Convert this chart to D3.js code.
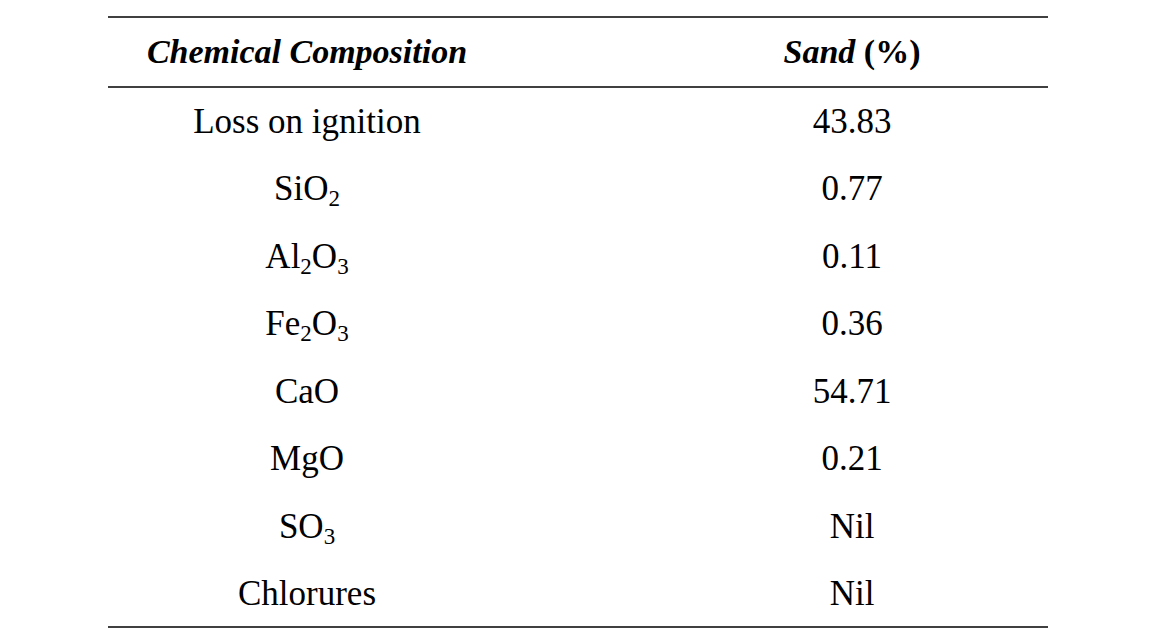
<!DOCTYPE html>
<html><head><meta charset="utf-8">
<script src="https://cdn.jsdelivr.net/npm/d3@7"></script>
<style>body{margin:0;background:#fff}</style></head>
<body><svg id="c" width="1151" height="639"></svg>
<script>
const headers = ["Chemical Composition", "Sand"];
// each category as parts: [text, isSubscript]
const categories = [
  [["Loss on ignition",0]],
  [["SiO",0],["2",1]],
  [["Al",0],["2",1],["O",0],["3",1]],
  [["Fe",0],["2",1],["O",0],["3",1]],
  [["CaO",0]],
  [["MgO",0]],
  [["SO",0],["3",1]],
  [["Chlorures",0]]
];
const values = ["43.83","0.77","0.11","0.36","54.71","0.21","Nil","Nil"];

const svg = d3.select("#c");
const font = "'Liberation Serif','Times New Roman',serif";
const x0 = 108, x1 = 1048;
const colX = [307, 852];
const y = d3.scalePoint().domain(d3.range(categories.length)).range([121, 593]);

[17, 87, 627].forEach(yy => svg.append("line").attr("x1", x0).attr("x2", x1)
  .attr("y1", yy).attr("y2", yy).attr("stroke", "#000").attr("stroke-width", 1.6));

svg.append("text").attr("x", colX[0]).attr("y", 63).attr("text-anchor", "middle")
  .attr("font-family", font).attr("font-size", 34).attr("font-weight", "bold")
  .attr("font-style", "italic").text(headers[0]);
const h2 = svg.append("text").attr("x", colX[1]).attr("y", 63).attr("text-anchor", "middle")
  .attr("font-family", font).attr("font-size", 34).attr("font-weight", "bold");
h2.append("tspan").attr("font-style", "italic").text(headers[1] + " ");
h2.append("tspan").text("(%)");

categories.forEach((parts, i) => {
  const t = svg.append("text").attr("x", colX[0]).attr("y", y(i) + 12).attr("text-anchor", "middle")
    .attr("font-family", font).attr("font-size", 35);
  let sub = false;
  parts.forEach(([s, isSub]) => {
    const ts = t.append("tspan").text(s);
    if (isSub && !sub) { ts.attr("font-size", 23).attr("dy", 6); sub = true; }
    else if (!isSub && sub) { ts.attr("dy", -6); sub = false; }
    else if (isSub) ts.attr("font-size", 23);
  });
  svg.append("text").attr("x", colX[1]).attr("y", y(i) + 12).attr("text-anchor", "middle")
    .attr("font-family", font).attr("font-size", 35).text(values[i]);
});
</script></body></html>
